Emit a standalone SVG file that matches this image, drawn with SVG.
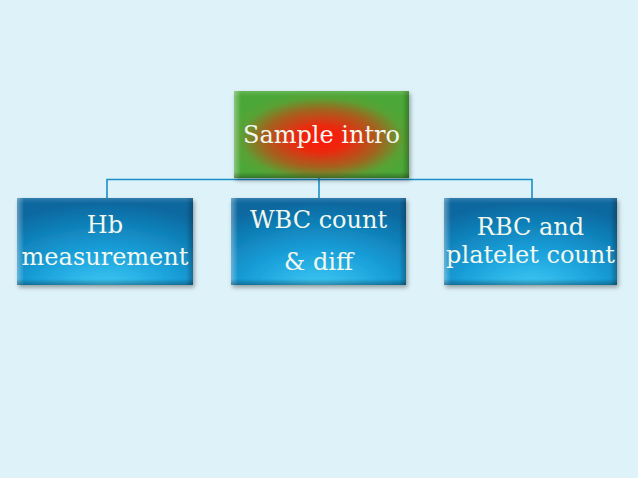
<svg xmlns="http://www.w3.org/2000/svg" width="638" height="478" viewBox="0 0 638 478">
<defs>
<radialGradient id="gRed" cx="0.5" cy="0.55" r="0.55">
<stop offset="0" stop-color="#ff1608"/>
<stop offset="0.28" stop-color="#ea2a0f"/>
<stop offset="0.6" stop-color="#a4621f"/>
<stop offset="0.85" stop-color="#58a234"/>
<stop offset="1" stop-color="#4ca838"/>
</radialGradient>
<radialGradient id="gBlue" cx="0.5" cy="1.05" r="0.9" gradientTransform="translate(0.5 1.05) scale(1 1.1) translate(-0.5 -1.05)">
<stop offset="0" stop-color="#40cbf6"/>
<stop offset="0.45" stop-color="#1aa0da"/>
<stop offset="1" stop-color="#08689f"/>
</radialGradient>
<linearGradient id="bevL" x1="0" y1="0" x2="1" y2="0">
<stop offset="0" stop-color="#ffffff" stop-opacity="0.35"/>
<stop offset="0.04" stop-color="#ffffff" stop-opacity="0"/>
<stop offset="0.96" stop-color="#000000" stop-opacity="0"/>
<stop offset="1" stop-color="#000000" stop-opacity="0.25"/>
</linearGradient>
<linearGradient id="bevT" x1="0" y1="0" x2="0" y2="1">
<stop offset="0" stop-color="#ffffff" stop-opacity="0.15"/>
<stop offset="0.06" stop-color="#ffffff" stop-opacity="0"/>
<stop offset="0.93" stop-color="#000000" stop-opacity="0"/>
<stop offset="1" stop-color="#000000" stop-opacity="0.3"/>
</linearGradient>
<filter id="sh" x="-10%" y="-10%" width="125%" height="130%">
<feDropShadow dx="1.5" dy="2.5" stdDeviation="2" flood-color="#000" flood-opacity="0.35"/>
</filter>
</defs>
<style>
.t{font-family:"DejaVu Serif","Liberation Serif",serif;font-size:24px;fill:#f2f8ee;text-anchor:middle}
.c{fill:none;stroke:#1b8fc6;stroke-width:1.6}
.b{fill:url(#gBlue);filter:url(#sh)}
.r{fill:url(#gRed);filter:url(#sh)}
.bl{fill:url(#bevL)}
.bt{fill:url(#bevT)}
</style>
<rect width="638" height="478" fill="#def3f9"/>
<g id="connectors">
<path class="c" d="M107 198 V179.5 H532 V198"/>
<path class="c" d="M319 178 V198"/>
</g>
<g id="n-sample">
<rect class="r" x="234" y="91" width="175" height="87"/>
<rect class="bl" x="234" y="91" width="175" height="87"/>
<rect class="bt" x="234" y="91" width="175" height="87"/>
<text class="t" x="321.5" y="143">Sample intro</text>
</g>
<g id="n-hb">
<rect class="b" x="17" y="198" width="176" height="87"/>
<rect class="bl" x="17" y="198" width="176" height="87"/>
<rect class="bt" x="17" y="198" width="176" height="87"/>
<text class="t" x="105" y="233">Hb</text>
<text class="t" x="105" y="265">measurement</text>
</g>
<g id="n-wbc">
<rect class="b" x="231" y="198" width="175" height="87"/>
<rect class="bl" x="231" y="198" width="175" height="87"/>
<rect class="bt" x="231" y="198" width="175" height="87"/>
<text class="t" x="318.5" y="228">WBC count</text>
<text class="t" x="318.5" y="270">&amp; diff</text>
</g>
<g id="n-rbc">
<rect class="b" x="444" y="198" width="173" height="87"/>
<rect class="bl" x="444" y="198" width="173" height="87"/>
<rect class="bt" x="444" y="198" width="173" height="87"/>
<text class="t" x="530.5" y="235">RBC and</text>
<text class="t" x="530.5" y="263">platelet count</text>
</g>
</svg>
